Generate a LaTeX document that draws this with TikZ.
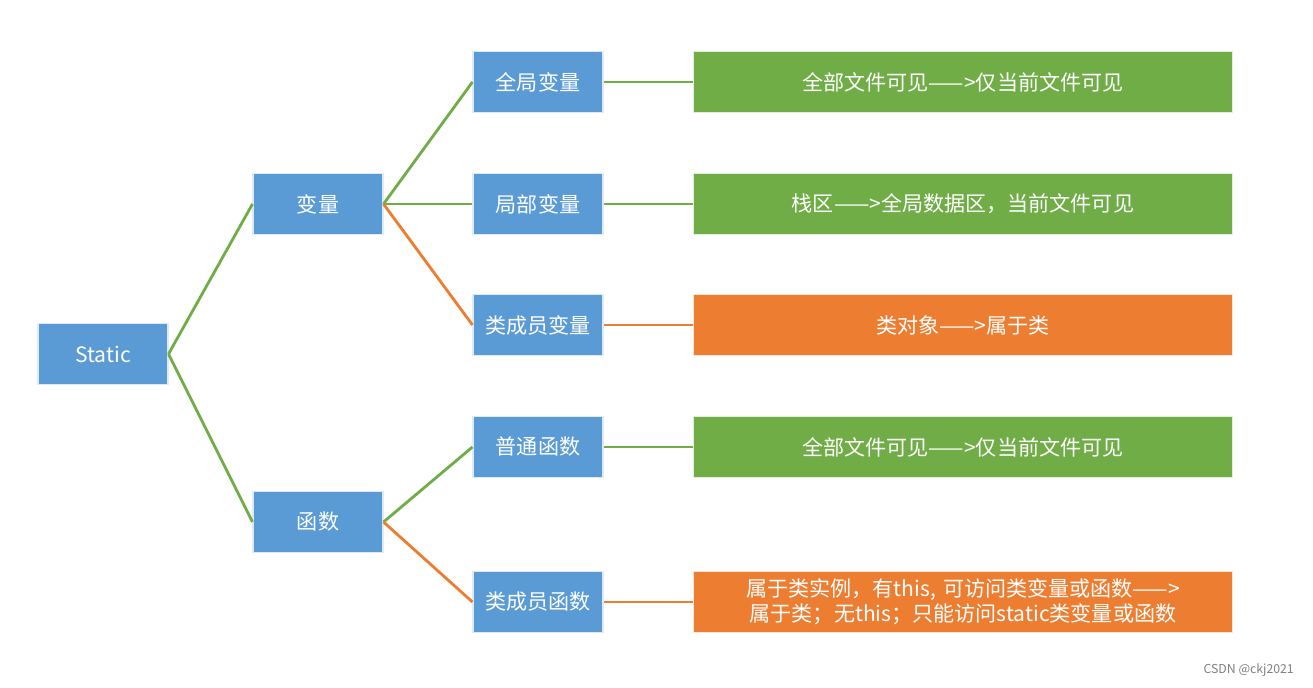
\documentclass[tikz,border=0pt]{standalone}
\usepackage{fontspec}
\setmainfont{Noto Sans CJK SC}
\begin{document}
\begin{tikzpicture}[x=0.02cm,y=-0.02cm,
 box/.style={draw=white!80!#1,line width=0.6pt,fill=#1,text=white,inner sep=1pt,font=\fontsize{12}{14.5}\selectfont,align=center,anchor=center},
 sb/.style={box=bl,minimum width=2.6cm,minimum height=1.22cm,text width=2.3cm},
 wb/.style={box=#1,minimum width=10.8cm,minimum height=1.22cm,text width=10.6cm},
 ln/.style={draw=#1,line width=1.6pt}]
\definecolor{bl}{HTML}{5B9BD5}
\definecolor{gr}{HTML}{70AD47}
\definecolor{or}{HTML}{ED7D31}
\fill[white] (0,0) rectangle (1313,688);
\node[sb] (s) at (103,354) {Static};
\node[sb] (v) at (318,204) {变量};
\node[sb] (f) at (318,522) {函数};
\node[sb] (a) at (538,82) {全局变量};
\node[sb] (b) at (538,204) {局部变量};
\node[sb] (c) at (538,325) {类成员变量};
\node[sb] (d) at (538,447) {普通函数};
\node[sb] (e) at (538,602) {类成员函数};
\node[wb=gr] (A) at (963,82) {全部文件可见——>仅当前文件可见};
\node[wb=gr] (B) at (963,204) {栈区——>全局数据区，当前文件可见};
\node[wb=or] (C) at (963,325) {类对象——>属于类};
\node[wb=gr] (D) at (963,447) {全部文件可见——>仅当前文件可见};
\node[wb=or] (E) at (963,602) {属于类实例，有this, 可访问类变量或函数——>\\属于类；无this；只能访问static类变量或函数};
\draw[ln=gr] (s.east)--(v.west);
\draw[ln=gr] (s.east)--(f.west);
\draw[ln=gr] (v.east)--(a.west);
\draw[ln=gr] (v.east)--(b.west);
\draw[ln=or] (v.east)--(c.west);
\draw[ln=gr] (f.east)--(d.west);
\draw[ln=or] (f.east)--(e.west);
\draw[ln=gr] (a)--(A);
\draw[ln=gr] (b)--(B);
\draw[ln=or] (c)--(C);
\draw[ln=gr] (d)--(D);
\draw[ln=or] (e)--(E);
\node[text=gray,font=\fontsize{7}{8}\selectfont,anchor=east] (w) at (1300,670) {CSDN @ckj2021};
\end{tikzpicture}
\end{document}
